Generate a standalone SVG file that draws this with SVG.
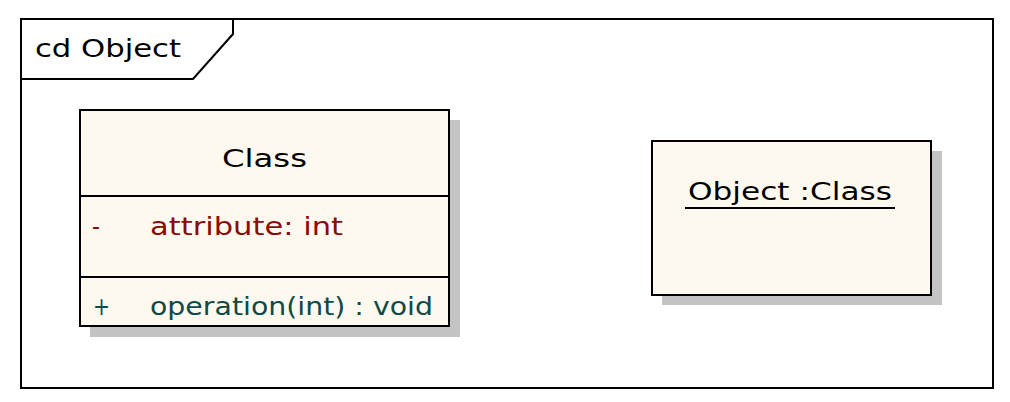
<svg xmlns="http://www.w3.org/2000/svg" width="1010" height="402" viewBox="0 0 1010 402">
<style>
text{font-family:"DejaVu Sans","Liberation Sans",sans-serif;font-size:25px;}
.box{fill:#fef9ef;stroke:#000;stroke-width:2;}
.shadow{fill:#c4c4c4;}
.line{stroke:#000;stroke-width:2;fill:none;}
.attr{fill:#8b0a0a;}
.op{fill:#0d4a48;}
</style>
<rect x="0" y="0" width="1010" height="402" fill="#fff"/>
<g id="frame">
<rect x="21" y="19" width="972" height="369" fill="#fff" stroke="#000" stroke-width="2"/>
<path class="line" d="M21 79 H193 L233 34 V19"/>
<text x="35" y="57" textLength="146" lengthAdjust="spacingAndGlyphs">cd Object</text>
</g>
<g id="class">
<rect class="shadow" x="90" y="120" width="370" height="217"/>
<rect class="box" x="80" y="110" width="369" height="216"/>
<line class="line" x1="80" y1="196" x2="449" y2="196"/>
<line class="line" x1="80" y1="277" x2="449" y2="277"/>
<text x="222" y="167" textLength="85" lengthAdjust="spacingAndGlyphs" fill="#000">Class</text>
<text class="attr" x="92" y="235" textLength="8" lengthAdjust="spacingAndGlyphs">-</text>
<text class="attr" x="150" y="235" textLength="193" lengthAdjust="spacingAndGlyphs">attribute:  int</text>
<text class="op" x="93" y="315" textLength="17" lengthAdjust="spacingAndGlyphs">+</text>
<text class="op" x="150" y="315" textLength="283" lengthAdjust="spacingAndGlyphs">operation(int) : void</text>
</g>
<g id="object">
<rect class="shadow" x="662" y="151" width="280" height="154"/>
<rect class="box" x="652" y="141" width="279" height="154"/>
<text x="688" y="200" textLength="204" lengthAdjust="spacingAndGlyphs" fill="#000">Object :Class</text>
<line x1="685" y1="208" x2="895" y2="208" stroke="#000" stroke-width="2"/>
</g>
<g id="connectors"></g>
</svg>
